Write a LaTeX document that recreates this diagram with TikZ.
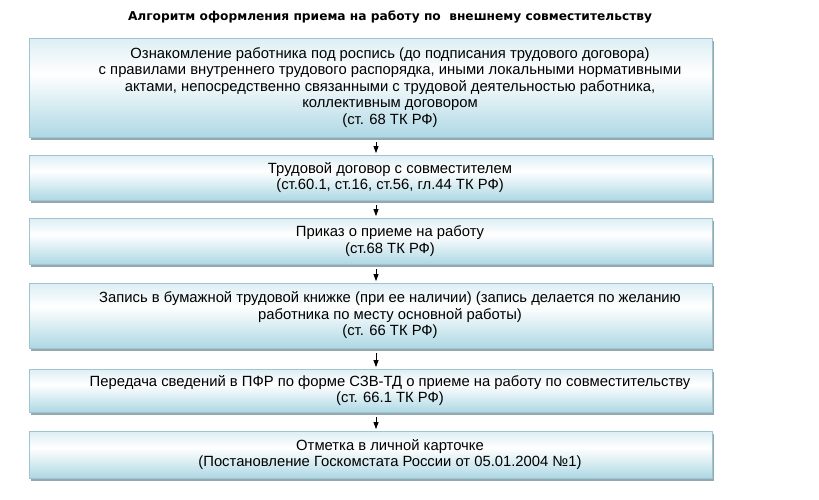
\documentclass[tikz,border=0pt]{standalone}
\usepackage{fontspec}
\setmainfont{Liberation Sans}
\newfontfamily\titlefont{DejaVu Sans}
\usetikzlibrary{arrows.meta,shadows}
\definecolor{boxtop}{HTML}{DCEEF4}
\definecolor{boxbot}{HTML}{AED8E4}
\definecolor{boxline}{HTML}{9EC6D2}
\definecolor{boxshadow}{HTML}{8A9EA6}
\pgfdeclareverticalshading{boxshade}{100bp}{color(0bp)=(boxbot); color(25bp)=(boxbot); color(57bp)=(white); color(75bp)=(boxtop); color(100bp)=(boxtop)}
\tikzset{
  etap/.style={rectangle, draw=boxline, line width=0.8pt, shading=boxshade,
    minimum width=683pt, inner sep=0pt,
    drop shadow={shadow xshift=1.5pt, shadow yshift=-3pt, fill=boxshadow, opacity=0.9}},
  etaptext/.style={align=center, xshift=19.5pt, inner sep=0pt,
    font=\fontsize{14.8}{16.5}\selectfont},
  pfeil/.style={-{Triangle[width=5pt,length=7pt]}, thick, shorten <=5pt, shorten >=1.5pt}
}

\begin{document}
\begin{tikzpicture}[x=1pt,y=-1pt]
                \useasboundingbox (0,0) rectangle (819,499);
                \node[font=\titlefont\bfseries\fontsize{12.2}{14}\selectfont] (T) at (390,17) {Алгоритм оформления приема на работу по\ \ внешнему совместительству};
                
                \node[etap, minimum height=99pt, label={[etaptext]center:{Ознакомление работника под роспись (до подписания трудового договора)\\ с правилами внутреннего трудового распорядка, иными локальными нормативными\\ актами, непосредственно связанными с трудовой деятельностью работника,\hspace*{42pt}\\ коллективным договором\\ (ст. 68 ТК РФ)}}] (E1) at (370.5,87.5) {};
                \node[etap, minimum height=45pt, label={[etaptext]center:{Трудовой договор с совместителем\\ (ст.60.1, ст.16, ст.56, гл.44 ТК РФ)}}] (E2) at (370.5,177.5) {};
                \node[etap, minimum height=46pt, label={[etaptext]center:{Приказ о приеме на работу\\ (ст.68 ТК РФ)}}] (E3) at (370.5,241) {};
                \node[etap, minimum height=65pt, label={[etaptext]center:{Запись в бумажной трудовой книжке (при ее наличии) (запись делается по желанию\\ работника по месту основной работы)\hspace*{42pt}\\ (ст. 66 ТК РФ)}}] (E4) at (370.5,315.5) {};
                \node[etap, minimum height=43pt, label={[etaptext]center:{Передача сведений в ПФР по форме СЗВ-ТД о приеме на работу по совместительству\\ (ст. 66.1 ТК РФ)}}] (E5) at (370.5,390.5) {};
                \node[etap, minimum height=47pt, label={[etaptext]center:{Отметка в личной карточке\\ (Постановление Госкомстата России от 05.01.2004 №1)}}] (E6) at (370.5,454.5) {};
                
                \draw[pfeil] ([xshift=5.5pt]E1.south) -- ([xshift=5.5pt]E2.north);
                \draw[pfeil] ([xshift=5.5pt]E2.south) -- ([xshift=5.5pt]E3.north);
                \draw[pfeil] ([xshift=5.5pt]E3.south) -- ([xshift=5.5pt]E4.north);
                \draw[pfeil] ([xshift=5.5pt]E4.south) -- ([xshift=5.5pt]E5.north);
                \draw[pfeil] ([xshift=5.5pt]E5.south) -- ([xshift=5.5pt]E6.north);
            \end{tikzpicture}
\end{document}
